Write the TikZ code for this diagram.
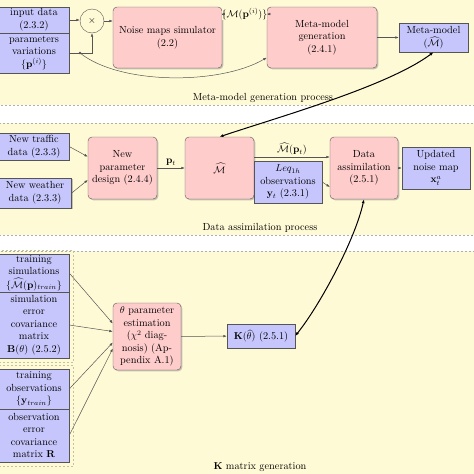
\documentclass[tikz,border=0pt]{standalone}
\usetikzlibrary{arrows.meta,shadows,fit}
\definecolor{bluefill}{RGB}{198,198,252}
\definecolor{pinkfill}{RGB}{255,204,204}
\definecolor{bgyellow}{RGB}{255,250,214}
\definecolor{bord}{RGB}{85,85,85}
\definecolor{dashcol}{RGB}{175,175,175}
\definecolor{grpcol}{RGB}{195,195,160}
\begin{document}
\begin{tikzpicture}[x=1pt,y=-1pt,
  every node/.style={font=\fontsize{10.3}{12.6}\selectfont},
  bluebox/.style={draw=bord, fill=bluefill, align=center, inner sep=1pt,
    drop shadow={shadow xshift=1.3pt, shadow yshift=-1.3pt, opacity=0.45}},
  pinkbox/.style={draw=bord, fill=pinkfill, align=center, inner sep=1pt, rounded corners=4pt,
    drop shadow={shadow xshift=1.3pt, shadow yshift=-1.3pt, opacity=0.45}},
  region/.style={fill=bgyellow, draw=dashcol, dash pattern=on 2pt off 2pt},
  group/.style={draw=grpcol, dash pattern=on 2pt off 2pt, inner sep=4pt},
  conn/.style={draw=bord, line width=0.5pt, -{Latex[length=3.5pt,width=2.6pt]}},
  plain/.style={draw=bord, line width=0.5pt},
  thickarr/.style={draw=black, line width=1pt, {Latex[length=4pt,width=3pt]}-{Latex[length=4pt,width=3pt]}},
  title/.style={inner sep=0pt}
]
\useasboundingbox (0,0) rectangle (474,474);
\clip (0,0) rectangle (474,474);

% regions
\path[region] (-5,-5) rectangle (480,105);
\path[region] (-5,123) rectangle (480,235);
\path[region] (-5,251) rectangle (480,480);

% ---- Meta-model generation process ----
\node[bluebox, minimum width=70pt, minimum height=26pt] (input) at (34,20) {input data\\(2.3.2)};
\node[bluebox, minimum width=70pt, minimum height=40pt] (params) at (34,53) {parameters\\variations\\$\{\mathbf{p}^{(i)}\}$};
\node[draw=bord, fill=bgyellow, circle, minimum size=24pt, inner sep=0pt] (times) at (92,21) {$\times$};
\node[pinkbox, minimum width=109pt, minimum height=61pt] (noise) at (167.5,37.5) {Noise maps simulator\\(2.2)};
\node[pinkbox, minimum width=110pt, minimum height=61pt] (metagen) at (322,37.5) {Meta-model\\generation\\(2.4.1)};
\node[bluebox, minimum width=69pt, minimum height=29pt] (metamodel) at (433.5,37.5) {Meta-model\\[1pt]$(\widehat{\mathcal{M}})$};
\node[title] (t1) at (263,98) {Meta-model generation process};
\node[fill=bgyellow, inner sep=0pt] (mlab) at (244.5,14) {$\{\mathcal{M}(\mathbf{p}^{(i)})\}$};

\coordinate (dot) at (80,53);
\draw[conn] (input.east) -- (input.east -| times.west);
\draw[plain] (params.east) -- (dot);
\draw[conn] (dot) -| (times.south);
\fill[bord] (dot) circle (1.3pt);
\draw[conn] (dot) .. controls (120,85) and (220,85) .. (metagen.200);
\draw[conn] (times.east) -- (times.east -| noise.west);
\draw[conn] (noise.east |- mlab) -- (mlab.west);
\draw[conn] (mlab.east) -- (metagen.west |- mlab);
\draw[conn] (metagen) -- (metamodel);

% ---- Data assimilation process ----
\node[bluebox, minimum width=70pt, minimum height=27pt] (traffic) at (34,146.5) {New traffic\\data (2.3.3)};
\node[bluebox, minimum width=73pt, minimum height=30pt] (weather) at (35,193) {New weather\\data (2.3.3)};
\node[pinkbox, minimum width=69pt, minimum height=62pt] (newparam) at (122.5,168) {New\\parameter\\design (2.4.4)};
\node[pinkbox, minimum width=69pt, minimum height=62pt] (mhat) at (219.5,168) {$\widehat{\mathcal{M}}$};
\node[bluebox, minimum width=68pt, minimum height=42pt] (leq) at (288,182) {$Leq_{1h}$\\observations\\$\mathbf{y}_t$ (2.3.1)};
\node[pinkbox, minimum width=68pt, minimum height=62pt] (da) at (364,168) {Data\\assimilation\\(2.5.1)};
\node[bluebox, minimum width=68pt, minimum height=42pt] (updated) at (436,168) {Updated\\noise map\\$\mathbf{x}_t^a$};
\node[title] (t2) at (260,228) {Data assimilation process};

\draw[conn] (traffic.east) -- (newparam.162);
\draw[conn] (weather.east) -- (newparam.199);
\draw[conn] (newparam) -- node[above, inner sep=2pt] {$\mathbf{p}_t$} (mhat);
\draw[conn] ([yshift=11pt]mhat.east) -- node[above, inner sep=1.5pt] {$\widehat{\mathcal{M}}(\mathbf{p}_t)$} ([yshift=11pt]da.west);
\draw[conn] (leq.east) -- ([yshift=-19pt]da.west);
\draw[conn] (da) -- (updated);

\draw[thickarr] (mhat.north) .. controls (282,116) and (388,86) .. (metamodel.south);

% ---- K matrix generation ----
\node[bluebox, minimum width=70pt, minimum height=38pt] (trainsim) at (34,273) {training\\simulations\\[1pt]$\{\widehat{\mathcal{M}}(\mathbf{p})_{train}\}$};
\node[bluebox, minimum width=70pt, minimum height=66pt] (simerr) at (34,325) {simulation\\error\\covariance\\matrix\\$\mathbf{B}(\theta)$ (2.5.2)};
\node[bluebox, minimum width=70pt, minimum height=40pt] (trainobs) at (34,389) {training\\observations\\$\{\mathbf{y}_{train}\}$};
\node[bluebox, minimum width=70pt, minimum height=53pt] (obserr) at (34,435.5) {observation\\error\\covariance\\matrix $\mathbf{R}$};
\node[group, fit=(trainsim)(simerr)] (grp1) {};
\node[group, fit=(trainobs)(obserr)] (grp2) {};
\node[pinkbox, minimum width=68pt, minimum height=67pt] (theta) at (147,336.5) {$\theta$ parameter\\estimation\\($\chi^2$ diag-\\nosis) (Ap-\\pendix A.1)};
\node[bluebox, minimum width=68pt, minimum height=24pt] (K) at (261,336) {$\mathbf{K}(\widehat{\theta})$ (2.5.1)};
\node[title] (t3) at (260,467) {$\mathbf{K}$ matrix generation};

\draw[conn] (trainsim.east) -- ([yshift=13pt]theta.west);
\draw[conn] (simerr.east) -- ([yshift=5pt]theta.west);
\draw[conn] (trainobs.east) -- ([yshift=-6pt]theta.west);
\draw[conn] (obserr.east) -- ([yshift=-12pt]theta.west);
\draw[conn] (theta) -- (K);

\draw[thickarr] (K.east) .. controls (320,305) and (355,240) .. (da.south);
\end{tikzpicture}
\end{document}
